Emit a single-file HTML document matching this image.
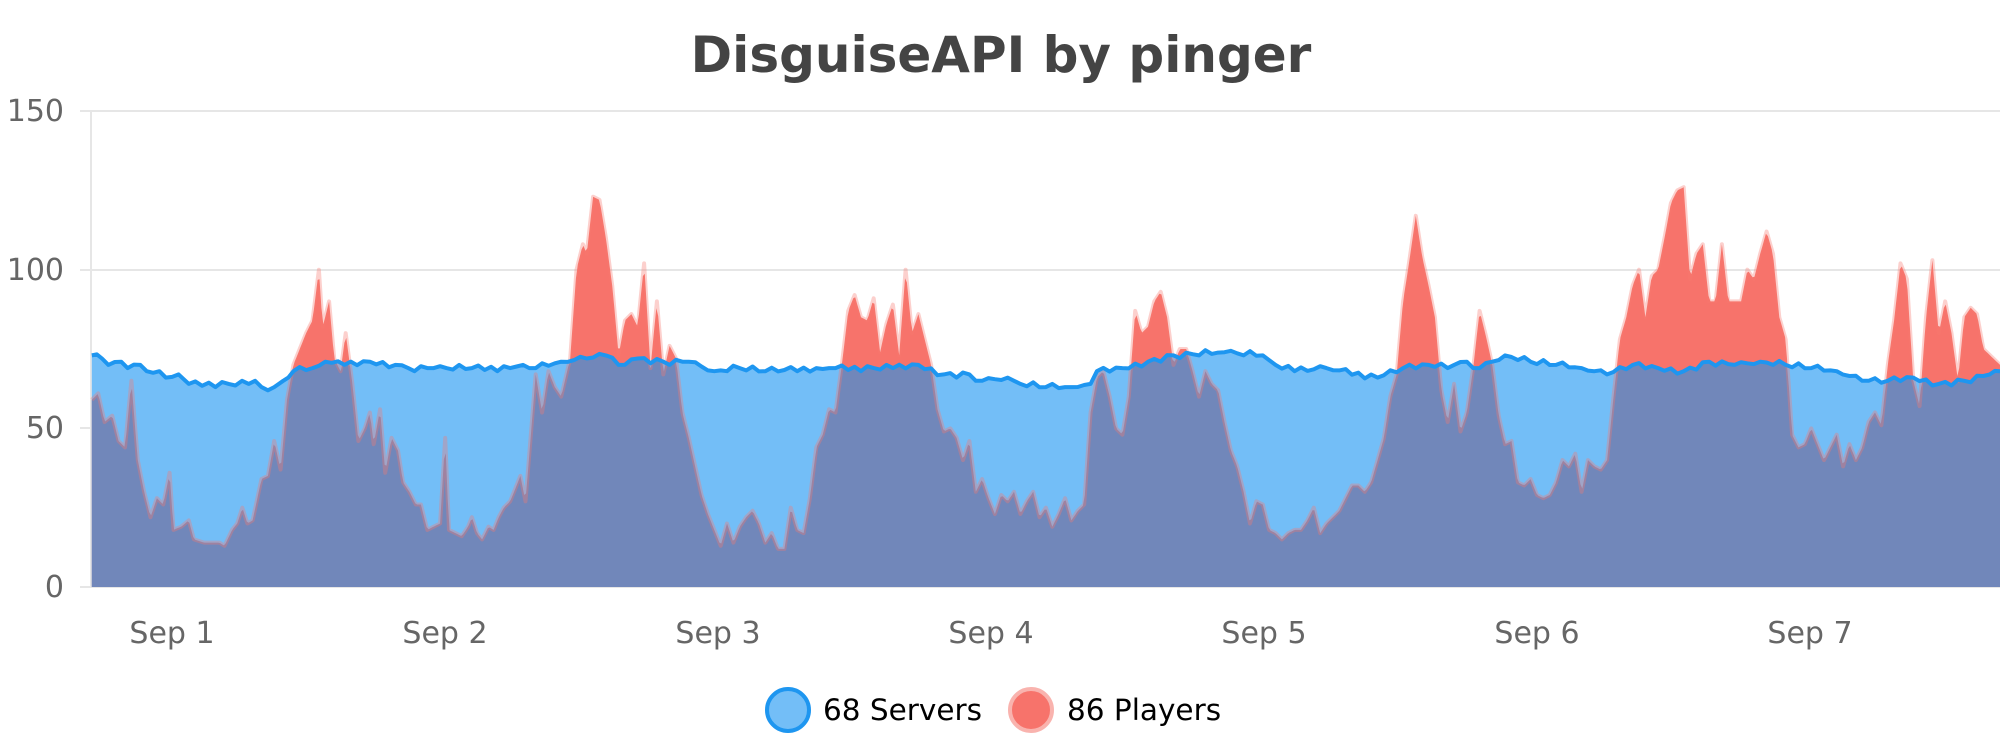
<!DOCTYPE html>
<html><head><meta charset="utf-8">
<style>
html,body{margin:0;padding:0;background:#fff;}
body{width:2000px;height:750px;overflow:hidden;position:relative;font-family:"DejaVu Sans","Liberation Sans",sans-serif;}
</style></head>
<body>
<svg id="c" width="2000" height="750" xmlns="http://www.w3.org/2000/svg" style="position:absolute;left:0;top:0">
<text x="1001" y="72" text-anchor="middle" font-size="50" font-weight="bold" fill="#444" font-family="DejaVu Sans, Liberation Sans, sans-serif">DisguiseAPI by pinger</text>
<g stroke="#e6e6e6" stroke-width="2">
<line x1="80" y1="111" x2="2000" y2="111"/>
<line x1="80" y1="270" x2="2000" y2="270"/>
<line x1="80" y1="428" x2="2000" y2="428"/>
<line x1="80" y1="587" x2="2000" y2="587"/>
<line x1="91" y1="111" x2="91" y2="587"/>
</g>
<g font-size="30" fill="#666" text-anchor="end" font-family="DejaVu Sans, Liberation Sans, sans-serif">
<text x="64" y="121">150</text>
<text x="64" y="280">100</text>
<text x="64" y="438">50</text>
<text x="64" y="597">0</text>
</g>
<g id="areas"></g>
<g font-size="30" fill="#666" text-anchor="middle" font-family="DejaVu Sans, Liberation Sans, sans-serif">
<text x="172" y="643">Sep 1</text>
<text x="445" y="643">Sep 2</text>
<text x="718" y="643">Sep 3</text>
<text x="991" y="643">Sep 4</text>
<text x="1264" y="643">Sep 5</text>
<text x="1537" y="643">Sep 6</text>
<text x="1810" y="643">Sep 7</text>
</g>
<circle cx="788" cy="710" r="21" fill="#73bef7" stroke="#1e96f0" stroke-width="4"/>
<text x="823" y="720" font-size="29.5" fill="#000" font-family="DejaVu Sans, Liberation Sans, sans-serif">68 Servers</text>
<circle cx="1031" cy="710" r="21" fill="#f7736b" stroke="#f9b3ae" stroke-width="4"/>
<text x="1067" y="720" font-size="29.5" fill="#000" font-family="DejaVu Sans, Liberation Sans, sans-serif">86 Players</text>
</svg>
<script>
var S=[[72,73],[80,72],[85,70],[95,71],[100,69],[110,70],[115,68],[125,68],[130,66],[140,67],[148,64],[195,64],[200,65],[205,63],[210,62],[215,63],[222,65],[230,68],[245,69],[255,71],[270,70],[290,71],[310,70],[320,69],[340,69],[400,69],[410,70],[420,69],[440,71],[460,72],[475,73],[485,70],[500,72],[520,71],[540,71],[560,68],[580,69],[600,68],[640,69],[650,69],[700,69],[720,70],[740,67],[760,67],[770,65],[790,66],[800,64],[820,63],[840,63],[855,64],[860,68],[880,69],[900,71],[920,73],[960,74],[990,73],[1000,70],[1015,68],[1040,69],[1080,66],[1100,69],[1120,70],[1140,70],[1150,71],[1160,69],[1180,73],[1200,71],[1220,70],[1240,69],[1260,67],[1280,70],[1300,69],[1320,68],[1340,71],[1360,70],[1380,71],[1400,70],[1420,69],[1440,68],[1460,65],[1480,65],[1500,66],[1520,64],[1540,65],[1560,67],[1568,68]];
var P=[[72,59],[77,61],[82,52],[88,54],[93,46],[98,44],[103,65],[108,40],[113,30],[118,22],[123,28],[128,26],[133,36],[136,18],[142,19],[148,21],[152,15],[160,14],[172,14],[176,13],[182,18],[186,20],[190,25],[194,20],[198,21],[205,34],[210,35],[215,46],[220,37],[225,59],[230,70],[235,75],[240,80],[245,84],[250,100],[253,82],[258,90],[262,72],[267,68],[271,80],[276,65],[281,46],[286,50],[290,55],[293,45],[298,56],[302,36],[307,47],[312,43],[316,33],[321,30],[326,26],[330,26],[335,18],[340,19],[345,20],[349,47],[352,18],[357,17],[362,16],[367,19],[370,22],[374,17],[378,15],[383,19],[387,18],[391,22],[395,25],[400,27],[404,31],[408,35],[412,27],[416,47],[420,67],[425,55],[430,68],[435,63],[440,60],[447,72],[452,100],[457,108],[460,105],[465,123],[470,122],[475,110],[480,95],[485,73],[490,84],[495,86],[500,82],[505,102],[510,69],[515,90],[520,67],[525,76],[530,72],[535,55],[540,47],[545,38],[550,29],[555,23],[560,18],[565,13],[570,20],[575,14],[580,19],[585,22],[590,24],[595,20],[600,14],[605,17],[610,12],[615,12],[620,25],[625,18],[630,17],[635,28],[640,44],[645,48],[650,56],[655,55],[660,70],[665,87],[670,92],[675,85],[680,84],[685,91],[690,74],[695,83],[700,89],[705,73],[710,100],[715,80],[720,86],[725,78],[730,70],[735,56],[740,49],[745,50],[750,47],[755,40],[760,46],[765,30],[770,34],[775,28],[780,23],[785,29],[790,27],[795,30],[800,23],[805,27],[810,30],[815,22],[820,25],[825,19],[830,23],[835,28],[840,21],[845,24],[850,26],[855,55],[860,66],[865,68],[870,60],[875,50],[880,48],[885,60],[890,87],[895,80],[900,82],[905,90],[910,93],[915,85],[920,70],[925,75],[930,75],[935,68],[940,60],[945,68],[950,64],[955,62],[960,52],[965,43],[970,38],[975,30],[980,20],[985,27],[990,26],[995,18],[1000,17],[1005,15],[1010,17],[1015,18],[1020,18],[1025,21],[1030,25],[1035,17],[1040,20],[1045,22],[1050,24],[1055,28],[1060,32],[1065,32],[1070,30],[1075,33],[1080,40],[1085,47],[1090,60],[1095,67],[1100,90],[1105,103],[1110,117],[1115,104],[1120,95],[1125,85],[1130,62],[1135,52],[1140,64],[1145,49],[1150,55],[1155,69],[1160,87],[1165,79],[1170,70],[1175,54],[1180,45],[1185,46],[1190,33],[1195,32],[1200,34],[1205,29],[1210,28],[1215,29],[1220,33],[1225,40],[1230,38],[1235,42],[1240,30],[1245,40],[1250,38],[1255,37],[1260,40],[1265,60],[1270,78],[1275,85],[1280,95],[1285,100],[1290,85],[1295,98],[1300,100],[1305,110],[1310,121],[1315,125],[1320,126],[1325,97],[1330,105],[1335,108],[1340,90],[1345,90],[1350,108],[1355,90],[1360,90],[1365,90],[1370,100],[1375,97],[1380,105],[1385,112],[1390,105],[1395,85],[1400,78],[1405,48],[1410,44],[1415,45],[1420,50],[1425,45],[1430,40],[1435,44],[1440,48],[1445,38],[1450,45],[1455,40],[1460,44],[1465,52],[1470,55],[1475,51],[1480,70],[1485,84],[1490,102],[1495,97],[1500,65],[1505,57],[1510,85],[1515,103],[1520,80],[1525,90],[1530,80],[1535,65],[1540,85],[1545,88],[1550,86],[1555,75],[1568,70]];
// add small deterministic jitter to server line for realism
var S2=[];var jit=[0,0.8,-0.6,0.4,-1,0.6,0,-0.5,1,-0.3];
for(var i=0;i<S.length-1;i++){var a=S[i],b=S[i+1];var n=Math.max(1,Math.round((b[0]-a[0])/5));for(var k=0;k<n;k++){var t=k/n;S2.push([a[0]+t*(b[0]-a[0]),a[1]+t*(b[1]-a[1])+(k?jit[(i+k)%10]:0)]);}}
S2.push(S[S.length-1]);S=S2;
function X(d){return Math.min(2000,Math.max(91,d/0.784));}
function Y(v){return 587-v*3.173;}
function interp(A,x){for(var i=1;i<A.length;i++){if(A[i][0]>=x){var a=A[i-1],b=A[i];var t=(x-a[0])/(b[0]-a[0]||1);return a[1]+t*(b[1]-a[1]);}}return A[A.length-1][1];}
var xs=[];for(var x=72;x<=1568;x+=1.5)xs.push(x);
function area(f){var s="M"+X(72)+",587";xs.forEach(function(x){s+=" L"+X(x).toFixed(1)+","+Y(f(x)).toFixed(1);});s+=" L2000,"+Y(f(1568)).toFixed(1)+" L2000,587 Z";return s;}
function line(A){var s="";A.forEach(function(p,i){s+=(i?" L":"M")+X(p[0]).toFixed(1)+","+Y(p[1]).toFixed(1);});s+=" L2000,"+Y(A[A.length-1][1]).toFixed(1);return s;}
var ns="http://www.w3.org/2000/svg",g=document.getElementById("areas");
function add(d,fill,stroke,sw){var p=document.createElementNS(ns,"path");p.setAttribute("d",d);p.setAttribute("fill",fill);if(stroke){p.setAttribute("stroke",stroke);p.setAttribute("stroke-width",sw);p.setAttribute("stroke-linejoin","round");}g.appendChild(p);}
add(area(function(x){return interp(P,x);}),"#f7736b");
add(area(function(x){return interp(S,x);}),"#73bef7");
add(area(function(x){return Math.min(interp(S,x),interp(P,x));}),"#7187ba");
add(line(P),"none","rgba(247,120,112,0.35)",4);
add(line(S),"none","#1e96f0",4);
</script>
</body></html>
